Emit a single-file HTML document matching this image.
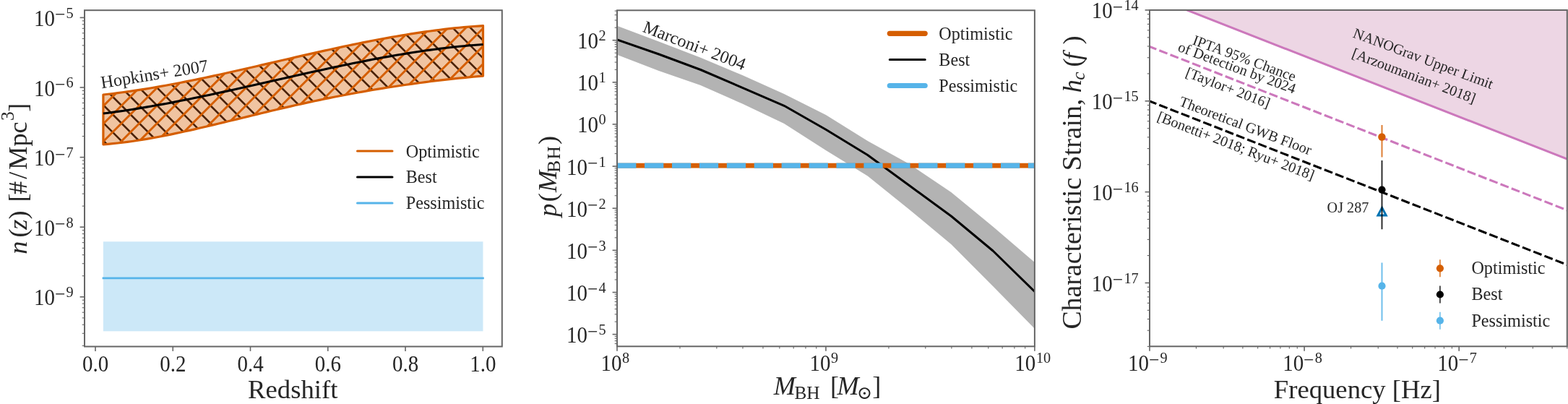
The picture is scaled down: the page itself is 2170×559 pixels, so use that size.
<!DOCTYPE html>
<html><head><meta charset="utf-8"><title>Figure</title><style>html,body{margin:0;padding:0;background:#fff;overflow:hidden}svg{display:block;filter:blur(0.4px)}</style></head><body>
<svg width="2170" height="559" viewBox="0 0 2170 559" font-family='"Liberation Serif", "DejaVu Serif", serif' fill="#262626">
<defs>
<clipPath id="c1"><rect x="117" y="14.2" width="577.8" height="465.3"/></clipPath>
<clipPath id="c2"><rect x="854" y="14.3" width="577.9" height="465"/></clipPath>
<clipPath id="c3"><rect x="1591" y="13.95" width="577.8" height="465.35"/></clipPath>
</defs>
<rect width="2170" height="559" fill="#fff"/>
<g clip-path="url(#c1)">
<rect x="142.9" y="334.3" width="525.6" height="124" fill="#56B4E9" fill-opacity="0.3"/>
<line x1="141.6" y1="384.8" x2="669.8" y2="384.8" stroke="#56B4E9" stroke-width="2.8"/>
<clipPath id="band1"><polygon points="142.9,131.02 149.55,130.27 156.21,129.48 162.86,128.65 169.51,127.78 176.17,126.86 182.82,125.91 189.47,124.91 196.13,123.88 202.78,122.82 209.43,121.72 216.08,120.59 222.74,119.42 229.39,118.23 236.04,117 242.7,115.75 249.35,114.47 256,113.17 262.66,111.84 269.31,110.49 275.96,109.12 282.62,107.73 289.27,106.32 295.92,104.89 302.58,103.45 309.23,101.99 315.88,100.51 322.54,99.03 329.19,97.53 335.84,96.02 342.49,94.51 349.15,92.99 355.8,91.46 362.45,89.93 369.11,88.39 375.76,86.85 382.41,85.32 389.07,83.78 395.72,82.24 402.37,80.71 409.03,79.18 415.68,77.66 422.33,76.14 428.99,74.63 435.64,73.14 442.29,71.65 448.95,70.17 455.6,68.71 462.25,67.26 468.91,65.82 475.56,64.41 482.21,63 488.86,61.62 495.52,60.26 502.17,58.92 508.82,57.6 515.48,56.3 522.13,55.03 528.78,53.79 535.44,52.57 542.09,51.37 548.74,50.21 555.4,49.08 562.05,47.98 568.7,46.91 575.36,45.88 582.01,44.88 588.66,43.92 595.32,42.99 601.97,42.1 608.62,41.26 615.27,40.45 621.93,39.68 628.58,38.96 635.23,38.28 641.89,37.65 648.54,37.07 655.19,36.53 661.85,36.04 668.5,35.6 668.5,105.1 661.85,105.67 655.19,106.27 648.54,106.89 641.89,107.54 635.23,108.21 628.58,108.91 621.93,109.63 615.27,110.38 608.62,111.15 601.97,111.95 595.32,112.77 588.66,113.62 582.01,114.49 575.36,115.39 568.7,116.31 562.05,117.25 555.4,118.22 548.74,119.21 542.09,120.23 535.44,121.27 528.78,122.34 522.13,123.43 515.48,124.54 508.82,125.68 502.17,126.84 495.52,128.03 488.86,129.23 482.21,130.47 475.56,131.72 468.91,133 462.25,134.3 455.6,135.63 448.95,136.98 442.29,138.35 435.64,139.75 428.99,141.17 422.33,142.61 415.68,144.07 409.03,145.56 402.37,147.07 395.72,148.6 389.07,150.15 382.41,151.71 375.76,153.29 369.11,154.89 362.45,156.49 355.8,158.1 349.15,159.71 342.49,161.33 335.84,162.95 329.19,164.58 322.54,166.2 315.88,167.81 309.23,169.42 302.58,171.02 295.92,172.61 289.27,174.19 282.62,175.75 275.96,177.3 269.31,178.83 262.66,180.33 256,181.81 249.35,183.26 242.7,184.68 236.04,186.07 229.39,187.42 222.74,188.72 216.08,189.98 209.43,191.19 202.78,192.35 196.13,193.45 189.47,194.49 182.82,195.47 176.17,196.39 169.51,197.24 162.86,198.01 156.21,198.71 149.55,199.33 142.9,199.87"/></clipPath>
<polygon points="142.9,131.02 149.55,130.27 156.21,129.48 162.86,128.65 169.51,127.78 176.17,126.86 182.82,125.91 189.47,124.91 196.13,123.88 202.78,122.82 209.43,121.72 216.08,120.59 222.74,119.42 229.39,118.23 236.04,117 242.7,115.75 249.35,114.47 256,113.17 262.66,111.84 269.31,110.49 275.96,109.12 282.62,107.73 289.27,106.32 295.92,104.89 302.58,103.45 309.23,101.99 315.88,100.51 322.54,99.03 329.19,97.53 335.84,96.02 342.49,94.51 349.15,92.99 355.8,91.46 362.45,89.93 369.11,88.39 375.76,86.85 382.41,85.32 389.07,83.78 395.72,82.24 402.37,80.71 409.03,79.18 415.68,77.66 422.33,76.14 428.99,74.63 435.64,73.14 442.29,71.65 448.95,70.17 455.6,68.71 462.25,67.26 468.91,65.82 475.56,64.41 482.21,63 488.86,61.62 495.52,60.26 502.17,58.92 508.82,57.6 515.48,56.3 522.13,55.03 528.78,53.79 535.44,52.57 542.09,51.37 548.74,50.21 555.4,49.08 562.05,47.98 568.7,46.91 575.36,45.88 582.01,44.88 588.66,43.92 595.32,42.99 601.97,42.1 608.62,41.26 615.27,40.45 621.93,39.68 628.58,38.96 635.23,38.28 641.89,37.65 648.54,37.07 655.19,36.53 661.85,36.04 668.5,35.6 668.5,105.1 661.85,105.67 655.19,106.27 648.54,106.89 641.89,107.54 635.23,108.21 628.58,108.91 621.93,109.63 615.27,110.38 608.62,111.15 601.97,111.95 595.32,112.77 588.66,113.62 582.01,114.49 575.36,115.39 568.7,116.31 562.05,117.25 555.4,118.22 548.74,119.21 542.09,120.23 535.44,121.27 528.78,122.34 522.13,123.43 515.48,124.54 508.82,125.68 502.17,126.84 495.52,128.03 488.86,129.23 482.21,130.47 475.56,131.72 468.91,133 462.25,134.3 455.6,135.63 448.95,136.98 442.29,138.35 435.64,139.75 428.99,141.17 422.33,142.61 415.68,144.07 409.03,145.56 402.37,147.07 395.72,148.6 389.07,150.15 382.41,151.71 375.76,153.29 369.11,154.89 362.45,156.49 355.8,158.1 349.15,159.71 342.49,161.33 335.84,162.95 329.19,164.58 322.54,166.2 315.88,167.81 309.23,169.42 302.58,171.02 295.92,172.61 289.27,174.19 282.62,175.75 275.96,177.3 269.31,178.83 262.66,180.33 256,181.81 249.35,183.26 242.7,184.68 236.04,186.07 229.39,187.42 222.74,188.72 216.08,189.98 209.43,191.19 202.78,192.35 196.13,193.45 189.47,194.49 182.82,195.47 176.17,196.39 169.51,197.24 162.86,198.01 156.21,198.71 149.55,199.33 142.9,199.87" fill="#D55E00" fill-opacity="0.37"/>
<g clip-path="url(#band1)">
<path d="M-1011,0L-711,300M-986.4,0L-686.4,300M-961.8,0L-661.8,300M-937.2,0L-637.2,300M-912.6,0L-612.6,300M-888,0L-588,300M-863.4,0L-563.4,300M-838.8,0L-538.8,300M-814.2,0L-514.2,300M-789.6,0L-489.6,300M-765,0L-465,300M-740.4,0L-440.4,300M-715.8,0L-415.8,300M-691.2,0L-391.2,300M-666.6,0L-366.6,300M-642,0L-342,300M-617.4,0L-317.4,300M-592.8,0L-292.8,300M-568.2,0L-268.2,300M-543.6,0L-243.6,300M-519,0L-219,300M-494.4,0L-194.4,300M-469.8,0L-169.8,300M-445.2,0L-145.2,300M-420.6,0L-120.6,300M-396,0L-96,300M-371.4,0L-71.4,300M-346.8,0L-46.8,300M-322.2,0L-22.2,300M-297.6,0L2.4,300M-273,0L27,300M-248.4,0L51.6,300M-223.8,0L76.2,300M-199.2,0L100.8,300M-174.6,0L125.4,300M-150,0L150,300M-125.4,0L174.6,300M-100.8,0L199.2,300M-76.2,0L223.8,300M-51.6,0L248.4,300M-27,0L273,300M-2.4,0L297.6,300M22.2,0L322.2,300M46.8,0L346.8,300M71.4,0L371.4,300M96,0L396,300M120.6,0L420.6,300M145.2,0L445.2,300M169.8,0L469.8,300M194.4,0L494.4,300M219,0L519,300M243.6,0L543.6,300M268.2,0L568.2,300M292.8,0L592.8,300M317.4,0L617.4,300M342,0L642,300M366.6,0L666.6,300M391.2,0L691.2,300M415.8,0L715.8,300M440.4,0L740.4,300M465,0L765,300M489.6,0L789.6,300M514.2,0L814.2,300M538.8,0L838.8,300M563.4,0L863.4,300M588,0L888,300M612.6,0L912.6,300M637.2,0L937.2,300M661.8,0L961.8,300M686.4,0L986.4,300M711,0L1011,300M735.6,0L1035.6,300M760.2,0L1060.2,300M784.8,0L1084.8,300M809.4,0L1109.4,300M834,0L1134,300M858.6,0L1158.6,300M883.2,0L1183.2,300M907.8,0L1207.8,300M932.4,0L1232.4,300M957,0L1257,300M981.6,0L1281.6,300M1006.2,0L1306.2,300M1030.8,0L1330.8,300M1055.4,0L1355.4,300M1080,0L1380,300M1104.6,0L1404.6,300M1129.2,0L1429.2,300M1153.8,0L1453.8,300M1178.4,0L1478.4,300M1203,0L1503,300M1227.6,0L1527.6,300M1252.2,0L1552.2,300M1276.8,0L1576.8,300M1301.4,0L1601.4,300M1326,0L1626,300M1350.6,0L1650.6,300M1375.2,0L1675.2,300M1399.8,0L1699.8,300M1424.4,0L1724.4,300" stroke="#4a2106" stroke-width="2.6" fill="none"/>
<path d="M-669.8,0L-969.8,300M-645.2,0L-945.2,300M-620.6,0L-920.6,300M-596,0L-896,300M-571.4,0L-871.4,300M-546.8,0L-846.8,300M-522.2,0L-822.2,300M-497.6,0L-797.6,300M-473,0L-773,300M-448.4,0L-748.4,300M-423.8,0L-723.8,300M-399.2,0L-699.2,300M-374.6,0L-674.6,300M-350,0L-650,300M-325.4,0L-625.4,300M-300.8,0L-600.8,300M-276.2,0L-576.2,300M-251.6,0L-551.6,300M-227,0L-527,300M-202.4,0L-502.4,300M-177.8,0L-477.8,300M-153.2,0L-453.2,300M-128.6,0L-428.6,300M-104,0L-404,300M-79.4,0L-379.4,300M-54.8,0L-354.8,300M-30.2,0L-330.2,300M-5.6,0L-305.6,300M19,0L-281,300M43.6,0L-256.4,300M68.2,0L-231.8,300M92.8,0L-207.2,300M117.4,0L-182.6,300M142,0L-158,300M166.6,0L-133.4,300M191.2,0L-108.8,300M215.8,0L-84.2,300M240.4,0L-59.6,300M265,0L-35,300M289.6,0L-10.4,300M314.2,0L14.2,300M338.8,0L38.8,300M363.4,0L63.4,300M388,0L88,300M412.6,0L112.6,300M437.2,0L137.2,300M461.8,0L161.8,300M486.4,0L186.4,300M511,0L211,300M535.6,0L235.6,300M560.2,0L260.2,300M584.8,0L284.8,300M609.4,0L309.4,300M634,0L334,300M658.6,0L358.6,300M683.2,0L383.2,300M707.8,0L407.8,300M732.4,0L432.4,300M757,0L457,300M781.6,0L481.6,300M806.2,0L506.2,300M830.8,0L530.8,300M855.4,0L555.4,300M880,0L580,300M904.6,0L604.6,300M929.2,0L629.2,300M953.8,0L653.8,300M978.4,0L678.4,300M1003,0L703,300M1027.6,0L727.6,300M1052.2,0L752.2,300M1076.8,0L776.8,300M1101.4,0L801.4,300M1126,0L826,300M1150.6,0L850.6,300M1175.2,0L875.2,300M1199.8,0L899.8,300M1224.4,0L924.4,300M1249,0L949,300M1273.6,0L973.6,300M1298.2,0L998.2,300M1322.8,0L1022.8,300M1347.4,0L1047.4,300M1372,0L1072,300M1396.6,0L1096.6,300M1421.2,0L1121.2,300M1445.8,0L1145.8,300M1470.4,0L1170.4,300M1495,0L1195,300M1519.6,0L1219.6,300M1544.2,0L1244.2,300M1568.8,0L1268.8,300M1593.4,0L1293.4,300M1618,0L1318,300M1642.6,0L1342.6,300M1667.2,0L1367.2,300M1691.8,0L1391.8,300M1716.4,0L1416.4,300M1741,0L1441,300M1765.6,0L1465.6,300" stroke="#D55E00" stroke-width="2.9" fill="none"/>
</g>
<polygon points="142.9,131.02 149.55,130.27 156.21,129.48 162.86,128.65 169.51,127.78 176.17,126.86 182.82,125.91 189.47,124.91 196.13,123.88 202.78,122.82 209.43,121.72 216.08,120.59 222.74,119.42 229.39,118.23 236.04,117 242.7,115.75 249.35,114.47 256,113.17 262.66,111.84 269.31,110.49 275.96,109.12 282.62,107.73 289.27,106.32 295.92,104.89 302.58,103.45 309.23,101.99 315.88,100.51 322.54,99.03 329.19,97.53 335.84,96.02 342.49,94.51 349.15,92.99 355.8,91.46 362.45,89.93 369.11,88.39 375.76,86.85 382.41,85.32 389.07,83.78 395.72,82.24 402.37,80.71 409.03,79.18 415.68,77.66 422.33,76.14 428.99,74.63 435.64,73.14 442.29,71.65 448.95,70.17 455.6,68.71 462.25,67.26 468.91,65.82 475.56,64.41 482.21,63 488.86,61.62 495.52,60.26 502.17,58.92 508.82,57.6 515.48,56.3 522.13,55.03 528.78,53.79 535.44,52.57 542.09,51.37 548.74,50.21 555.4,49.08 562.05,47.98 568.7,46.91 575.36,45.88 582.01,44.88 588.66,43.92 595.32,42.99 601.97,42.1 608.62,41.26 615.27,40.45 621.93,39.68 628.58,38.96 635.23,38.28 641.89,37.65 648.54,37.07 655.19,36.53 661.85,36.04 668.5,35.6 668.5,105.1 661.85,105.67 655.19,106.27 648.54,106.89 641.89,107.54 635.23,108.21 628.58,108.91 621.93,109.63 615.27,110.38 608.62,111.15 601.97,111.95 595.32,112.77 588.66,113.62 582.01,114.49 575.36,115.39 568.7,116.31 562.05,117.25 555.4,118.22 548.74,119.21 542.09,120.23 535.44,121.27 528.78,122.34 522.13,123.43 515.48,124.54 508.82,125.68 502.17,126.84 495.52,128.03 488.86,129.23 482.21,130.47 475.56,131.72 468.91,133 462.25,134.3 455.6,135.63 448.95,136.98 442.29,138.35 435.64,139.75 428.99,141.17 422.33,142.61 415.68,144.07 409.03,145.56 402.37,147.07 395.72,148.6 389.07,150.15 382.41,151.71 375.76,153.29 369.11,154.89 362.45,156.49 355.8,158.1 349.15,159.71 342.49,161.33 335.84,162.95 329.19,164.58 322.54,166.2 315.88,167.81 309.23,169.42 302.58,171.02 295.92,172.61 289.27,174.19 282.62,175.75 275.96,177.3 269.31,178.83 262.66,180.33 256,181.81 249.35,183.26 242.7,184.68 236.04,186.07 229.39,187.42 222.74,188.72 216.08,189.98 209.43,191.19 202.78,192.35 196.13,193.45 189.47,194.49 182.82,195.47 176.17,196.39 169.51,197.24 162.86,198.01 156.21,198.71 149.55,199.33 142.9,199.87" fill="none" stroke="#D55E00" stroke-width="3.2" stroke-linejoin="round"/>
<polyline points="142.9,157.04 149.55,156.19 156.21,155.3 162.86,154.38 169.51,153.42 176.17,152.43 182.82,151.41 189.47,150.35 196.13,149.26 202.78,148.14 209.43,147 216.08,145.82 222.74,144.62 229.39,143.4 236.04,142.15 242.7,140.88 249.35,139.58 256,138.27 262.66,136.93 269.31,135.58 275.96,134.21 282.62,132.82 289.27,131.42 295.92,130 302.58,128.57 309.23,127.12 315.88,125.67 322.54,124.21 329.19,122.73 335.84,121.25 342.49,119.77 349.15,118.27 355.8,116.77 362.45,115.27 369.11,113.77 375.76,112.27 382.41,110.76 389.07,109.26 395.72,107.76 402.37,106.26 409.03,104.76 415.68,103.28 422.33,101.79 428.99,100.32 435.64,98.85 442.29,97.4 448.95,95.95 455.6,94.52 462.25,93.1 468.91,91.69 475.56,90.3 482.21,88.93 488.86,87.57 495.52,86.23 502.17,84.91 508.82,83.61 515.48,82.34 522.13,81.08 528.78,79.85 535.44,78.65 542.09,77.47 548.74,76.32 555.4,75.19 562.05,74.1 568.7,73.04 575.36,72.01 582.01,71.01 588.66,70.04 595.32,69.11 601.97,68.22 608.62,67.36 615.27,66.54 621.93,65.76 628.58,65.03 635.23,64.33 641.89,63.67 648.54,63.06 655.19,62.5 661.85,61.98 668.5,61.5" fill="none" stroke="#000" stroke-width="3.1"/>
</g>
<rect x="117" y="14.2" width="577.8" height="465.3" fill="none" stroke="#666666" stroke-width="2"/>
<line x1="113.7" y1="478.32" x2="117" y2="478.32" stroke="#666666" stroke-width="1.1"/>
<line x1="113.7" y1="461.31" x2="117" y2="461.31" stroke="#666666" stroke-width="1.1"/>
<line x1="113.7" y1="449.24" x2="117" y2="449.24" stroke="#666666" stroke-width="1.1"/>
<line x1="113.7" y1="439.88" x2="117" y2="439.88" stroke="#666666" stroke-width="1.1"/>
<line x1="113.7" y1="432.23" x2="117" y2="432.23" stroke="#666666" stroke-width="1.1"/>
<line x1="113.7" y1="425.76" x2="117" y2="425.76" stroke="#666666" stroke-width="1.1"/>
<line x1="113.7" y1="420.16" x2="117" y2="420.16" stroke="#666666" stroke-width="1.1"/>
<line x1="113.7" y1="415.22" x2="117" y2="415.22" stroke="#666666" stroke-width="1.1"/>
<line x1="110.6" y1="410.8" x2="117" y2="410.8" stroke="#666666" stroke-width="1.6"/>
<line x1="113.7" y1="381.72" x2="117" y2="381.72" stroke="#666666" stroke-width="1.1"/>
<line x1="113.7" y1="364.71" x2="117" y2="364.71" stroke="#666666" stroke-width="1.1"/>
<line x1="113.7" y1="352.64" x2="117" y2="352.64" stroke="#666666" stroke-width="1.1"/>
<line x1="113.7" y1="343.28" x2="117" y2="343.28" stroke="#666666" stroke-width="1.1"/>
<line x1="113.7" y1="335.63" x2="117" y2="335.63" stroke="#666666" stroke-width="1.1"/>
<line x1="113.7" y1="329.16" x2="117" y2="329.16" stroke="#666666" stroke-width="1.1"/>
<line x1="113.7" y1="323.56" x2="117" y2="323.56" stroke="#666666" stroke-width="1.1"/>
<line x1="113.7" y1="318.62" x2="117" y2="318.62" stroke="#666666" stroke-width="1.1"/>
<line x1="110.6" y1="314.2" x2="117" y2="314.2" stroke="#666666" stroke-width="1.6"/>
<line x1="113.7" y1="285.12" x2="117" y2="285.12" stroke="#666666" stroke-width="1.1"/>
<line x1="113.7" y1="268.11" x2="117" y2="268.11" stroke="#666666" stroke-width="1.1"/>
<line x1="113.7" y1="256.04" x2="117" y2="256.04" stroke="#666666" stroke-width="1.1"/>
<line x1="113.7" y1="246.68" x2="117" y2="246.68" stroke="#666666" stroke-width="1.1"/>
<line x1="113.7" y1="239.03" x2="117" y2="239.03" stroke="#666666" stroke-width="1.1"/>
<line x1="113.7" y1="232.56" x2="117" y2="232.56" stroke="#666666" stroke-width="1.1"/>
<line x1="113.7" y1="226.96" x2="117" y2="226.96" stroke="#666666" stroke-width="1.1"/>
<line x1="113.7" y1="222.02" x2="117" y2="222.02" stroke="#666666" stroke-width="1.1"/>
<line x1="110.6" y1="217.6" x2="117" y2="217.6" stroke="#666666" stroke-width="1.6"/>
<line x1="113.7" y1="188.52" x2="117" y2="188.52" stroke="#666666" stroke-width="1.1"/>
<line x1="113.7" y1="171.51" x2="117" y2="171.51" stroke="#666666" stroke-width="1.1"/>
<line x1="113.7" y1="159.44" x2="117" y2="159.44" stroke="#666666" stroke-width="1.1"/>
<line x1="113.7" y1="150.08" x2="117" y2="150.08" stroke="#666666" stroke-width="1.1"/>
<line x1="113.7" y1="142.43" x2="117" y2="142.43" stroke="#666666" stroke-width="1.1"/>
<line x1="113.7" y1="135.96" x2="117" y2="135.96" stroke="#666666" stroke-width="1.1"/>
<line x1="113.7" y1="130.36" x2="117" y2="130.36" stroke="#666666" stroke-width="1.1"/>
<line x1="113.7" y1="125.42" x2="117" y2="125.42" stroke="#666666" stroke-width="1.1"/>
<line x1="110.6" y1="121" x2="117" y2="121" stroke="#666666" stroke-width="1.6"/>
<line x1="113.7" y1="91.92" x2="117" y2="91.92" stroke="#666666" stroke-width="1.1"/>
<line x1="113.7" y1="74.91" x2="117" y2="74.91" stroke="#666666" stroke-width="1.1"/>
<line x1="113.7" y1="62.84" x2="117" y2="62.84" stroke="#666666" stroke-width="1.1"/>
<line x1="113.7" y1="53.48" x2="117" y2="53.48" stroke="#666666" stroke-width="1.1"/>
<line x1="113.7" y1="45.83" x2="117" y2="45.83" stroke="#666666" stroke-width="1.1"/>
<line x1="113.7" y1="39.36" x2="117" y2="39.36" stroke="#666666" stroke-width="1.1"/>
<line x1="113.7" y1="33.76" x2="117" y2="33.76" stroke="#666666" stroke-width="1.1"/>
<line x1="113.7" y1="28.82" x2="117" y2="28.82" stroke="#666666" stroke-width="1.1"/>
<line x1="110.6" y1="24.4" x2="117" y2="24.4" stroke="#666666" stroke-width="1.6"/>
<text transform="translate(101.7,422.3) scale(1,1.065)" text-anchor="end" font-size="29.0">10<tspan dx="0" dy="-6.2" font-size="25.5">−</tspan><tspan dx="1.2" dy="-4.2" font-size="20.3">9</tspan></text>
<text transform="translate(101.7,325.7) scale(1,1.065)" text-anchor="end" font-size="29.0">10<tspan dx="0" dy="-6.2" font-size="25.5">−</tspan><tspan dx="1.2" dy="-4.2" font-size="20.3">8</tspan></text>
<text transform="translate(101.7,229.1) scale(1,1.065)" text-anchor="end" font-size="29.0">10<tspan dx="0" dy="-6.2" font-size="25.5">−</tspan><tspan dx="1.2" dy="-4.2" font-size="20.3">7</tspan></text>
<text transform="translate(101.7,132.5) scale(1,1.065)" text-anchor="end" font-size="29.0">10<tspan dx="0" dy="-6.2" font-size="25.5">−</tspan><tspan dx="1.2" dy="-4.2" font-size="20.3">6</tspan></text>
<text transform="translate(101.7,35.9) scale(1,1.065)" text-anchor="end" font-size="29.0">10<tspan dx="0" dy="-6.2" font-size="25.5">−</tspan><tspan dx="1.2" dy="-4.2" font-size="20.3">5</tspan></text>
<line x1="132" y1="479.5" x2="132" y2="485.9" stroke="#666666" stroke-width="1.6"/>
<text transform="translate(132,513.9) scale(1,1.065)" text-anchor="middle" font-size="29.0">0.0</text>
<line x1="239.26" y1="479.5" x2="239.26" y2="485.9" stroke="#666666" stroke-width="1.6"/>
<text transform="translate(239.26,513.9) scale(1,1.065)" text-anchor="middle" font-size="29.0">0.2</text>
<line x1="346.52" y1="479.5" x2="346.52" y2="485.9" stroke="#666666" stroke-width="1.6"/>
<text transform="translate(346.52,513.9) scale(1,1.065)" text-anchor="middle" font-size="29.0">0.4</text>
<line x1="453.78" y1="479.5" x2="453.78" y2="485.9" stroke="#666666" stroke-width="1.6"/>
<text transform="translate(453.78,513.9) scale(1,1.065)" text-anchor="middle" font-size="29.0">0.6</text>
<line x1="561.04" y1="479.5" x2="561.04" y2="485.9" stroke="#666666" stroke-width="1.6"/>
<text transform="translate(561.04,513.9) scale(1,1.065)" text-anchor="middle" font-size="29.0">0.8</text>
<line x1="668.3" y1="479.5" x2="668.3" y2="485.9" stroke="#666666" stroke-width="1.6"/>
<text transform="translate(668.3,513.9) scale(1,1.065)" text-anchor="middle" font-size="29.0">1.0</text>
<text x="405.2" y="551.4" text-anchor="middle" font-size="36.7">Redshift</text>
<text transform="translate(36.8,351.8) rotate(-90)" font-size="36.2"><tspan x="0" font-style="italic">n</tspan><tspan x="23.2">(</tspan><tspan x="34" font-style="italic">z</tspan><tspan x="48.3">)</tspan><tspan x="72.2">[</tspan><tspan x="82.8">#</tspan><tspan x="104">/</tspan><tspan x="117.1">Mpc</tspan><tspan x="184.8" dy="-18.2" font-size="25.34">3</tspan><tspan x="197" dy="18.2">]</tspan></text>
<text transform="translate(140.7,122.2) rotate(-9)" font-size="24.2">Hopkins+ 2007</text>
<line x1="494.5" y1="209.1" x2="543" y2="209.1" stroke="#D55E00" stroke-width="3" stroke-linecap="round"/>
<text x="561.7" y="217.5" font-size="24.2">Optimistic</text>
<line x1="494.5" y1="245" x2="543" y2="245" stroke="#000" stroke-width="3" stroke-linecap="round"/>
<text x="561.7" y="253.4" font-size="24.2">Best</text>
<line x1="494.5" y1="280.9" x2="543" y2="280.9" stroke="#56B4E9" stroke-width="3" stroke-linecap="round"/>
<text x="561.7" y="289.3" font-size="24.2">Pessimistic</text>
<g clip-path="url(#c2)">
<polygon points="854,35.8 911.79,57.4 969.58,79.7 1027.37,104 1085.16,130 1142.95,159 1200.74,195 1258.53,227 1316.32,266 1374.11,313.5 1431.9,363 1431.9,454.7 1374.11,396 1316.32,338 1258.53,290 1200.74,243.5 1142.95,208 1085.16,171 1027.37,143.6 969.58,118 911.79,98.1 854,75.7" fill="#b3b3b3"/>
<polyline points="854,55 911.79,75 969.58,96.5 1027.37,121.4 1085.16,146.3 1142.95,179.3 1200.74,214.5 1258.53,256.7 1316.32,299 1374.11,347 1431.9,403.5" fill="none" stroke="#000" stroke-width="3.0" stroke-linejoin="round"/>
<line x1="850" y1="229.2" x2="1440" y2="229.2" stroke="#D55E00" stroke-width="6.8"/>
<line x1="842.48" y1="229.2" x2="1440" y2="229.2" stroke="#56B4E9" stroke-width="7.2" stroke-dasharray="26.3 11.62" stroke-dashoffset="-11.62"/>
</g>
<rect x="854" y="14.3" width="577.9" height="465" fill="none" stroke="#666666" stroke-width="2"/>
<line x1="850.7" y1="475.51" x2="854" y2="475.51" stroke="#666666" stroke-width="1.1"/>
<line x1="850.7" y1="471.61" x2="854" y2="471.61" stroke="#666666" stroke-width="1.1"/>
<line x1="850.7" y1="468.24" x2="854" y2="468.24" stroke="#666666" stroke-width="1.1"/>
<line x1="850.7" y1="465.27" x2="854" y2="465.27" stroke="#666666" stroke-width="1.1"/>
<line x1="847.6" y1="462.61" x2="854" y2="462.61" stroke="#666666" stroke-width="1.6"/>
<line x1="850.7" y1="445.11" x2="854" y2="445.11" stroke="#666666" stroke-width="1.1"/>
<line x1="850.7" y1="434.87" x2="854" y2="434.87" stroke="#666666" stroke-width="1.1"/>
<line x1="850.7" y1="427.61" x2="854" y2="427.61" stroke="#666666" stroke-width="1.1"/>
<line x1="850.7" y1="421.98" x2="854" y2="421.98" stroke="#666666" stroke-width="1.1"/>
<line x1="850.7" y1="417.38" x2="854" y2="417.38" stroke="#666666" stroke-width="1.1"/>
<line x1="850.7" y1="413.48" x2="854" y2="413.48" stroke="#666666" stroke-width="1.1"/>
<line x1="850.7" y1="410.11" x2="854" y2="410.11" stroke="#666666" stroke-width="1.1"/>
<line x1="850.7" y1="407.14" x2="854" y2="407.14" stroke="#666666" stroke-width="1.1"/>
<line x1="847.6" y1="404.48" x2="854" y2="404.48" stroke="#666666" stroke-width="1.6"/>
<line x1="850.7" y1="386.98" x2="854" y2="386.98" stroke="#666666" stroke-width="1.1"/>
<line x1="850.7" y1="376.74" x2="854" y2="376.74" stroke="#666666" stroke-width="1.1"/>
<line x1="850.7" y1="369.48" x2="854" y2="369.48" stroke="#666666" stroke-width="1.1"/>
<line x1="850.7" y1="363.85" x2="854" y2="363.85" stroke="#666666" stroke-width="1.1"/>
<line x1="850.7" y1="359.25" x2="854" y2="359.25" stroke="#666666" stroke-width="1.1"/>
<line x1="850.7" y1="355.35" x2="854" y2="355.35" stroke="#666666" stroke-width="1.1"/>
<line x1="850.7" y1="351.98" x2="854" y2="351.98" stroke="#666666" stroke-width="1.1"/>
<line x1="850.7" y1="349.01" x2="854" y2="349.01" stroke="#666666" stroke-width="1.1"/>
<line x1="847.6" y1="346.35" x2="854" y2="346.35" stroke="#666666" stroke-width="1.6"/>
<line x1="850.7" y1="328.85" x2="854" y2="328.85" stroke="#666666" stroke-width="1.1"/>
<line x1="850.7" y1="318.61" x2="854" y2="318.61" stroke="#666666" stroke-width="1.1"/>
<line x1="850.7" y1="311.35" x2="854" y2="311.35" stroke="#666666" stroke-width="1.1"/>
<line x1="850.7" y1="305.72" x2="854" y2="305.72" stroke="#666666" stroke-width="1.1"/>
<line x1="850.7" y1="301.12" x2="854" y2="301.12" stroke="#666666" stroke-width="1.1"/>
<line x1="850.7" y1="297.22" x2="854" y2="297.22" stroke="#666666" stroke-width="1.1"/>
<line x1="850.7" y1="293.85" x2="854" y2="293.85" stroke="#666666" stroke-width="1.1"/>
<line x1="850.7" y1="290.88" x2="854" y2="290.88" stroke="#666666" stroke-width="1.1"/>
<line x1="847.6" y1="288.22" x2="854" y2="288.22" stroke="#666666" stroke-width="1.6"/>
<line x1="850.7" y1="270.72" x2="854" y2="270.72" stroke="#666666" stroke-width="1.1"/>
<line x1="850.7" y1="260.48" x2="854" y2="260.48" stroke="#666666" stroke-width="1.1"/>
<line x1="850.7" y1="253.22" x2="854" y2="253.22" stroke="#666666" stroke-width="1.1"/>
<line x1="850.7" y1="247.59" x2="854" y2="247.59" stroke="#666666" stroke-width="1.1"/>
<line x1="850.7" y1="242.99" x2="854" y2="242.99" stroke="#666666" stroke-width="1.1"/>
<line x1="850.7" y1="239.09" x2="854" y2="239.09" stroke="#666666" stroke-width="1.1"/>
<line x1="850.7" y1="235.72" x2="854" y2="235.72" stroke="#666666" stroke-width="1.1"/>
<line x1="850.7" y1="232.75" x2="854" y2="232.75" stroke="#666666" stroke-width="1.1"/>
<line x1="847.6" y1="230.09" x2="854" y2="230.09" stroke="#666666" stroke-width="1.6"/>
<line x1="850.7" y1="212.59" x2="854" y2="212.59" stroke="#666666" stroke-width="1.1"/>
<line x1="850.7" y1="202.35" x2="854" y2="202.35" stroke="#666666" stroke-width="1.1"/>
<line x1="850.7" y1="195.09" x2="854" y2="195.09" stroke="#666666" stroke-width="1.1"/>
<line x1="850.7" y1="189.46" x2="854" y2="189.46" stroke="#666666" stroke-width="1.1"/>
<line x1="850.7" y1="184.86" x2="854" y2="184.86" stroke="#666666" stroke-width="1.1"/>
<line x1="850.7" y1="180.96" x2="854" y2="180.96" stroke="#666666" stroke-width="1.1"/>
<line x1="850.7" y1="177.59" x2="854" y2="177.59" stroke="#666666" stroke-width="1.1"/>
<line x1="850.7" y1="174.62" x2="854" y2="174.62" stroke="#666666" stroke-width="1.1"/>
<line x1="847.6" y1="171.96" x2="854" y2="171.96" stroke="#666666" stroke-width="1.6"/>
<line x1="850.7" y1="154.46" x2="854" y2="154.46" stroke="#666666" stroke-width="1.1"/>
<line x1="850.7" y1="144.22" x2="854" y2="144.22" stroke="#666666" stroke-width="1.1"/>
<line x1="850.7" y1="136.96" x2="854" y2="136.96" stroke="#666666" stroke-width="1.1"/>
<line x1="850.7" y1="131.33" x2="854" y2="131.33" stroke="#666666" stroke-width="1.1"/>
<line x1="850.7" y1="126.73" x2="854" y2="126.73" stroke="#666666" stroke-width="1.1"/>
<line x1="850.7" y1="122.83" x2="854" y2="122.83" stroke="#666666" stroke-width="1.1"/>
<line x1="850.7" y1="119.46" x2="854" y2="119.46" stroke="#666666" stroke-width="1.1"/>
<line x1="850.7" y1="116.49" x2="854" y2="116.49" stroke="#666666" stroke-width="1.1"/>
<line x1="847.6" y1="113.83" x2="854" y2="113.83" stroke="#666666" stroke-width="1.6"/>
<line x1="850.7" y1="96.33" x2="854" y2="96.33" stroke="#666666" stroke-width="1.1"/>
<line x1="850.7" y1="86.09" x2="854" y2="86.09" stroke="#666666" stroke-width="1.1"/>
<line x1="850.7" y1="78.83" x2="854" y2="78.83" stroke="#666666" stroke-width="1.1"/>
<line x1="850.7" y1="73.2" x2="854" y2="73.2" stroke="#666666" stroke-width="1.1"/>
<line x1="850.7" y1="68.6" x2="854" y2="68.6" stroke="#666666" stroke-width="1.1"/>
<line x1="850.7" y1="64.7" x2="854" y2="64.7" stroke="#666666" stroke-width="1.1"/>
<line x1="850.7" y1="61.33" x2="854" y2="61.33" stroke="#666666" stroke-width="1.1"/>
<line x1="850.7" y1="58.36" x2="854" y2="58.36" stroke="#666666" stroke-width="1.1"/>
<line x1="847.6" y1="55.7" x2="854" y2="55.7" stroke="#666666" stroke-width="1.6"/>
<line x1="850.7" y1="38.2" x2="854" y2="38.2" stroke="#666666" stroke-width="1.1"/>
<line x1="850.7" y1="27.96" x2="854" y2="27.96" stroke="#666666" stroke-width="1.1"/>
<line x1="850.7" y1="20.7" x2="854" y2="20.7" stroke="#666666" stroke-width="1.1"/>
<line x1="850.7" y1="15.07" x2="854" y2="15.07" stroke="#666666" stroke-width="1.1"/>
<text transform="translate(838.7,474.11) scale(1,1.065)" text-anchor="end" font-size="29.0">10<tspan dx="0" dy="-6.2" font-size="25.5">−</tspan><tspan dx="1.2" dy="-4.2" font-size="20.3">5</tspan></text>
<text transform="translate(838.7,415.98) scale(1,1.065)" text-anchor="end" font-size="29.0">10<tspan dx="0" dy="-6.2" font-size="25.5">−</tspan><tspan dx="1.2" dy="-4.2" font-size="20.3">4</tspan></text>
<text transform="translate(838.7,357.85) scale(1,1.065)" text-anchor="end" font-size="29.0">10<tspan dx="0" dy="-6.2" font-size="25.5">−</tspan><tspan dx="1.2" dy="-4.2" font-size="20.3">3</tspan></text>
<text transform="translate(838.7,299.72) scale(1,1.065)" text-anchor="end" font-size="29.0">10<tspan dx="0" dy="-6.2" font-size="25.5">−</tspan><tspan dx="1.2" dy="-4.2" font-size="20.3">2</tspan></text>
<text transform="translate(838.7,241.59) scale(1,1.065)" text-anchor="end" font-size="29.0">10<tspan dx="0" dy="-6.2" font-size="25.5">−</tspan><tspan dx="1.2" dy="-4.2" font-size="20.3">1</tspan></text>
<text transform="translate(838.7,183.46) scale(1,1.065)" text-anchor="end" font-size="29.0">10<tspan dx="0.6" dy="-10.4" font-size="20.3">0</tspan></text>
<text transform="translate(838.7,125.33) scale(1,1.065)" text-anchor="end" font-size="29.0">10<tspan dx="0.6" dy="-10.4" font-size="20.3">1</tspan></text>
<text transform="translate(838.7,67.2) scale(1,1.065)" text-anchor="end" font-size="29.0">10<tspan dx="0.6" dy="-10.4" font-size="20.3">2</tspan></text>
<line x1="854" y1="479.3" x2="854" y2="485.7" stroke="#666666" stroke-width="1.6"/>
<line x1="940.98" y1="479.3" x2="940.98" y2="482.6" stroke="#666666" stroke-width="1.1"/>
<line x1="991.86" y1="479.3" x2="991.86" y2="482.6" stroke="#666666" stroke-width="1.1"/>
<line x1="1027.97" y1="479.3" x2="1027.97" y2="482.6" stroke="#666666" stroke-width="1.1"/>
<line x1="1055.97" y1="479.3" x2="1055.97" y2="482.6" stroke="#666666" stroke-width="1.1"/>
<line x1="1078.85" y1="479.3" x2="1078.85" y2="482.6" stroke="#666666" stroke-width="1.1"/>
<line x1="1098.19" y1="479.3" x2="1098.19" y2="482.6" stroke="#666666" stroke-width="1.1"/>
<line x1="1114.95" y1="479.3" x2="1114.95" y2="482.6" stroke="#666666" stroke-width="1.1"/>
<line x1="1129.73" y1="479.3" x2="1129.73" y2="482.6" stroke="#666666" stroke-width="1.1"/>
<line x1="1142.95" y1="479.3" x2="1142.95" y2="485.7" stroke="#666666" stroke-width="1.6"/>
<line x1="1229.93" y1="479.3" x2="1229.93" y2="482.6" stroke="#666666" stroke-width="1.1"/>
<line x1="1280.81" y1="479.3" x2="1280.81" y2="482.6" stroke="#666666" stroke-width="1.1"/>
<line x1="1316.92" y1="479.3" x2="1316.92" y2="482.6" stroke="#666666" stroke-width="1.1"/>
<line x1="1344.92" y1="479.3" x2="1344.92" y2="482.6" stroke="#666666" stroke-width="1.1"/>
<line x1="1367.8" y1="479.3" x2="1367.8" y2="482.6" stroke="#666666" stroke-width="1.1"/>
<line x1="1387.14" y1="479.3" x2="1387.14" y2="482.6" stroke="#666666" stroke-width="1.1"/>
<line x1="1403.9" y1="479.3" x2="1403.9" y2="482.6" stroke="#666666" stroke-width="1.1"/>
<line x1="1418.68" y1="479.3" x2="1418.68" y2="482.6" stroke="#666666" stroke-width="1.1"/>
<line x1="1431.9" y1="479.3" x2="1431.9" y2="485.7" stroke="#666666" stroke-width="1.6"/>
<text transform="translate(851.4,513.3) scale(1,1.065)" text-anchor="middle" font-size="29.0">10<tspan dx="0.6" dy="-10.4" font-size="20.3">8</tspan></text>
<text transform="translate(1140.35,513.3) scale(1,1.065)" text-anchor="middle" font-size="29.0">10<tspan dx="0.6" dy="-10.4" font-size="20.3">9</tspan></text>
<text transform="translate(1429.3,513.3) scale(1,1.065)" text-anchor="middle" font-size="29.0">10<tspan dx="0.6" dy="-10.4" font-size="20.3">10</tspan></text>
<text transform="translate(888.2,43.6) rotate(21)" font-size="24.2">Marconi+ 2004</text>
<line x1="1231.3" y1="46.3" x2="1280.2" y2="46.3" stroke="#D55E00" stroke-width="7.2" stroke-linecap="round"/>
<text x="1299.3" y="54.5" font-size="24.2">Optimistic</text>
<line x1="1231.3" y1="82.4" x2="1280.2" y2="82.4" stroke="#000" stroke-width="3.0" stroke-linecap="round"/>
<text x="1299.3" y="90.6" font-size="24.2">Best</text>
<line x1="1231.3" y1="118.5" x2="1280.2" y2="118.5" stroke="#56B4E9" stroke-width="7.2" stroke-linecap="round"/>
<text x="1299.3" y="126.7" font-size="24.2">Pessimistic</text>
<text y="545.7" font-size="36.2"><tspan x="1070.8" font-style="italic">M</tspan><tspan x="1099.4" dy="6.3" font-size="25.34">BH</tspan><tspan x="1149" dy="-6.3">[</tspan><tspan x="1158.4" font-style="italic">M</tspan><tspan x="1185.7" dy="6.3" font-size="25.34" font-family="DejaVu Serif, serif">⊙</tspan><tspan x="1207.2" dy="-6.3">]</tspan></text>
<text transform="translate(770,299.7) rotate(-90)" font-size="36.2"><tspan x="0" font-style="italic">p</tspan><tspan x="20.5">(</tspan><tspan x="33.7" font-style="italic">M</tspan><tspan x="61" dy="4.5" font-size="25.34">B</tspan><tspan x="79.3" font-size="25.34">H</tspan><tspan x="99.7" dy="-4.5">)</tspan></text>
<g clip-path="url(#c3)">
<polygon points="1591,-6.3 2173.8,222.05 2173.8,-10 1591,-10" fill="#EDD6E4"/>
<line x1="1591" y1="-6.3" x2="2173.8" y2="222.05" stroke="#CC78BC" stroke-width="3"/>
<line x1="1543.38" y1="45.84" x2="2178.8" y2="294.81" stroke="#CC78BC" stroke-width="3.1" stroke-dasharray="12.1 4.26"/>
<line x1="1543.38" y1="121.34" x2="2178.8" y2="370.31" stroke="#000" stroke-width="3.1" stroke-dasharray="12.1 4.26"/>
<polygon points="1912.6,287.4 1906.9,298.0 1918.3,298.0" fill="none" stroke="#0173B2" stroke-width="2.9" stroke-linejoin="miter"/>
<line x1="1912.5" y1="173.1" x2="1912.5" y2="217.6" stroke="#D55E00" stroke-width="2" stroke-opacity="0.8"/>
<circle cx="1912.4" cy="189.5" r="5.2" fill="#D55E00"/>
<line x1="1912.5" y1="221.9" x2="1912.5" y2="317.2" stroke="#000" stroke-width="1.9" stroke-opacity="0.85"/>
<circle cx="1912.5" cy="262.6" r="5.1" fill="#000"/>
<line x1="1912.5" y1="363.5" x2="1912.5" y2="443.7" stroke="#56B4E9" stroke-width="2" stroke-opacity="0.85"/>
<circle cx="1912.5" cy="395.7" r="5.1" fill="#56B4E9"/>
</g>
<rect x="1591" y="13.95" width="577.8" height="465.35" fill="none" stroke="#666666" stroke-width="2"/>
<line x1="1587.7" y1="479.39" x2="1591" y2="479.39" stroke="#666666" stroke-width="1.1"/>
<line x1="1587.7" y1="457.23" x2="1591" y2="457.23" stroke="#666666" stroke-width="1.1"/>
<line x1="1587.7" y1="441.51" x2="1591" y2="441.51" stroke="#666666" stroke-width="1.1"/>
<line x1="1587.7" y1="429.32" x2="1591" y2="429.32" stroke="#666666" stroke-width="1.1"/>
<line x1="1587.7" y1="419.36" x2="1591" y2="419.36" stroke="#666666" stroke-width="1.1"/>
<line x1="1587.7" y1="410.93" x2="1591" y2="410.93" stroke="#666666" stroke-width="1.1"/>
<line x1="1587.7" y1="403.63" x2="1591" y2="403.63" stroke="#666666" stroke-width="1.1"/>
<line x1="1587.7" y1="397.2" x2="1591" y2="397.2" stroke="#666666" stroke-width="1.1"/>
<line x1="1584.6" y1="391.44" x2="1591" y2="391.44" stroke="#666666" stroke-width="1.6"/>
<line x1="1587.7" y1="353.56" x2="1591" y2="353.56" stroke="#666666" stroke-width="1.1"/>
<line x1="1587.7" y1="331.4" x2="1591" y2="331.4" stroke="#666666" stroke-width="1.1"/>
<line x1="1587.7" y1="315.68" x2="1591" y2="315.68" stroke="#666666" stroke-width="1.1"/>
<line x1="1587.7" y1="303.49" x2="1591" y2="303.49" stroke="#666666" stroke-width="1.1"/>
<line x1="1587.7" y1="293.53" x2="1591" y2="293.53" stroke="#666666" stroke-width="1.1"/>
<line x1="1587.7" y1="285.1" x2="1591" y2="285.1" stroke="#666666" stroke-width="1.1"/>
<line x1="1587.7" y1="277.8" x2="1591" y2="277.8" stroke="#666666" stroke-width="1.1"/>
<line x1="1587.7" y1="271.37" x2="1591" y2="271.37" stroke="#666666" stroke-width="1.1"/>
<line x1="1584.6" y1="265.61" x2="1591" y2="265.61" stroke="#666666" stroke-width="1.6"/>
<line x1="1587.7" y1="227.73" x2="1591" y2="227.73" stroke="#666666" stroke-width="1.1"/>
<line x1="1587.7" y1="205.57" x2="1591" y2="205.57" stroke="#666666" stroke-width="1.1"/>
<line x1="1587.7" y1="189.85" x2="1591" y2="189.85" stroke="#666666" stroke-width="1.1"/>
<line x1="1587.7" y1="177.66" x2="1591" y2="177.66" stroke="#666666" stroke-width="1.1"/>
<line x1="1587.7" y1="167.7" x2="1591" y2="167.7" stroke="#666666" stroke-width="1.1"/>
<line x1="1587.7" y1="159.27" x2="1591" y2="159.27" stroke="#666666" stroke-width="1.1"/>
<line x1="1587.7" y1="151.97" x2="1591" y2="151.97" stroke="#666666" stroke-width="1.1"/>
<line x1="1587.7" y1="145.54" x2="1591" y2="145.54" stroke="#666666" stroke-width="1.1"/>
<line x1="1584.6" y1="139.78" x2="1591" y2="139.78" stroke="#666666" stroke-width="1.6"/>
<line x1="1587.7" y1="101.9" x2="1591" y2="101.9" stroke="#666666" stroke-width="1.1"/>
<line x1="1587.7" y1="79.74" x2="1591" y2="79.74" stroke="#666666" stroke-width="1.1"/>
<line x1="1587.7" y1="64.02" x2="1591" y2="64.02" stroke="#666666" stroke-width="1.1"/>
<line x1="1587.7" y1="51.83" x2="1591" y2="51.83" stroke="#666666" stroke-width="1.1"/>
<line x1="1587.7" y1="41.87" x2="1591" y2="41.87" stroke="#666666" stroke-width="1.1"/>
<line x1="1587.7" y1="33.44" x2="1591" y2="33.44" stroke="#666666" stroke-width="1.1"/>
<line x1="1587.7" y1="26.14" x2="1591" y2="26.14" stroke="#666666" stroke-width="1.1"/>
<line x1="1587.7" y1="19.71" x2="1591" y2="19.71" stroke="#666666" stroke-width="1.1"/>
<line x1="1584.6" y1="13.95" x2="1591" y2="13.95" stroke="#666666" stroke-width="1.6"/>
<text transform="translate(1575.7,402.94) scale(1,1.065)" text-anchor="end" font-size="29.0">10<tspan dx="0" dy="-6.2" font-size="25.5">−</tspan><tspan dx="1.2" dy="-4.2" font-size="20.3">17</tspan></text>
<text transform="translate(1575.7,277.11) scale(1,1.065)" text-anchor="end" font-size="29.0">10<tspan dx="0" dy="-6.2" font-size="25.5">−</tspan><tspan dx="1.2" dy="-4.2" font-size="20.3">16</tspan></text>
<text transform="translate(1575.7,151.28) scale(1,1.065)" text-anchor="end" font-size="29.0">10<tspan dx="0" dy="-6.2" font-size="25.5">−</tspan><tspan dx="1.2" dy="-4.2" font-size="20.3">15</tspan></text>
<text transform="translate(1575.7,25.45) scale(1,1.065)" text-anchor="end" font-size="29.0">10<tspan dx="0" dy="-6.2" font-size="25.5">−</tspan><tspan dx="1.2" dy="-4.2" font-size="20.3">14</tspan></text>
<line x1="1591" y1="479.3" x2="1591" y2="485.7" stroke="#666666" stroke-width="1.6"/>
<line x1="1655.45" y1="479.3" x2="1655.45" y2="482.6" stroke="#666666" stroke-width="1.1"/>
<line x1="1693.15" y1="479.3" x2="1693.15" y2="482.6" stroke="#666666" stroke-width="1.1"/>
<line x1="1719.9" y1="479.3" x2="1719.9" y2="482.6" stroke="#666666" stroke-width="1.1"/>
<line x1="1740.65" y1="479.3" x2="1740.65" y2="482.6" stroke="#666666" stroke-width="1.1"/>
<line x1="1757.6" y1="479.3" x2="1757.6" y2="482.6" stroke="#666666" stroke-width="1.1"/>
<line x1="1771.94" y1="479.3" x2="1771.94" y2="482.6" stroke="#666666" stroke-width="1.1"/>
<line x1="1784.35" y1="479.3" x2="1784.35" y2="482.6" stroke="#666666" stroke-width="1.1"/>
<line x1="1795.3" y1="479.3" x2="1795.3" y2="482.6" stroke="#666666" stroke-width="1.1"/>
<line x1="1805.1" y1="479.3" x2="1805.1" y2="485.7" stroke="#666666" stroke-width="1.6"/>
<line x1="1869.55" y1="479.3" x2="1869.55" y2="482.6" stroke="#666666" stroke-width="1.1"/>
<line x1="1907.25" y1="479.3" x2="1907.25" y2="482.6" stroke="#666666" stroke-width="1.1"/>
<line x1="1934" y1="479.3" x2="1934" y2="482.6" stroke="#666666" stroke-width="1.1"/>
<line x1="1954.75" y1="479.3" x2="1954.75" y2="482.6" stroke="#666666" stroke-width="1.1"/>
<line x1="1971.7" y1="479.3" x2="1971.7" y2="482.6" stroke="#666666" stroke-width="1.1"/>
<line x1="1986.04" y1="479.3" x2="1986.04" y2="482.6" stroke="#666666" stroke-width="1.1"/>
<line x1="1998.45" y1="479.3" x2="1998.45" y2="482.6" stroke="#666666" stroke-width="1.1"/>
<line x1="2009.4" y1="479.3" x2="2009.4" y2="482.6" stroke="#666666" stroke-width="1.1"/>
<line x1="2019.2" y1="479.3" x2="2019.2" y2="485.7" stroke="#666666" stroke-width="1.6"/>
<line x1="2083.65" y1="479.3" x2="2083.65" y2="482.6" stroke="#666666" stroke-width="1.1"/>
<line x1="2121.35" y1="479.3" x2="2121.35" y2="482.6" stroke="#666666" stroke-width="1.1"/>
<line x1="2148.1" y1="479.3" x2="2148.1" y2="482.6" stroke="#666666" stroke-width="1.1"/>
<line x1="2168.85" y1="479.3" x2="2168.85" y2="482.6" stroke="#666666" stroke-width="1.1"/>
<text transform="translate(1588.4,513.3) scale(1,1.065)" text-anchor="middle" font-size="29.0">10<tspan dx="0" dy="-6.2" font-size="25.5">−</tspan><tspan dx="1.2" dy="-4.2" font-size="20.3">9</tspan></text>
<text transform="translate(1802.5,513.3) scale(1,1.065)" text-anchor="middle" font-size="29.0">10<tspan dx="0" dy="-6.2" font-size="25.5">−</tspan><tspan dx="1.2" dy="-4.2" font-size="20.3">8</tspan></text>
<text transform="translate(2016.6,513.3) scale(1,1.065)" text-anchor="middle" font-size="29.0">10<tspan dx="0" dy="-6.2" font-size="25.5">−</tspan><tspan dx="1.2" dy="-4.2" font-size="20.3">7</tspan></text>
<line x1="1992.9" y1="359.3" x2="1992.9" y2="383.3" stroke="#D55E00" stroke-width="1.7" stroke-opacity="0.8"/>
<circle cx="1992.9" cy="371.3" r="5.1" fill="#D55E00"/>
<text x="2036.4" y="379.2" font-size="24.2">Optimistic</text>
<line x1="1992.9" y1="395.5" x2="1992.9" y2="419.5" stroke="#000" stroke-width="1.7" stroke-opacity="0.8"/>
<circle cx="1992.9" cy="407.5" r="5.1" fill="#000"/>
<text x="2036.4" y="415.4" font-size="24.2">Best</text>
<line x1="1992.9" y1="431.7" x2="1992.9" y2="455.7" stroke="#56B4E9" stroke-width="1.7" stroke-opacity="0.8"/>
<circle cx="1992.9" cy="443.7" r="5.1" fill="#56B4E9"/>
<text x="2036.4" y="451.6" font-size="24.2">Pessimistic</text>
<text transform="translate(1967.25,87.2) rotate(20.6)" text-anchor="middle" font-size="20.3">NANOGrav Upper Limit</text>
<text transform="translate(1954.5,111.1) rotate(20.7)" text-anchor="middle" font-size="20.3">[Arzoumanian+ 2018]</text>
<text transform="translate(1719.8,86.9) rotate(20.2)" text-anchor="middle" font-size="20.3">IPTA 95% Chance</text>
<text transform="translate(1709.65,100) rotate(20.2)" text-anchor="middle" font-size="20.3">of Detection by 2024</text>
<text transform="translate(1696.95,127.6) rotate(21.1)" text-anchor="middle" font-size="20.3">[Taylor+ 2016]</text>
<text transform="translate(1721.4,180.2) rotate(20.8)" text-anchor="middle" font-size="20.3">Theoretical GWB Floor</text>
<text transform="translate(1708,208) rotate(21)" text-anchor="middle" font-size="20.3">[Bonetti+ 2018; Ryu+ 2018]</text>
<text x="1836.6" y="293.6" font-size="20.2">OJ 287</text>
<text x="1878.4" y="550.9" text-anchor="middle" font-size="36.7">Frequency [Hz]</text>
<text transform="translate(1496,455.6) rotate(-90)" font-size="36.2"><tspan x="0" font-size="37.8">Characteristic Strain,</tspan><tspan x="327.3" font-style="italic">h</tspan><tspan x="344.9" dy="5" font-size="25.34" font-style="italic">c</tspan><tspan x="363.2" dy="-5">(</tspan><tspan x="372.7" font-style="italic">f</tspan><tspan x="394.2">)</tspan></text>
</svg>
</body></html>
